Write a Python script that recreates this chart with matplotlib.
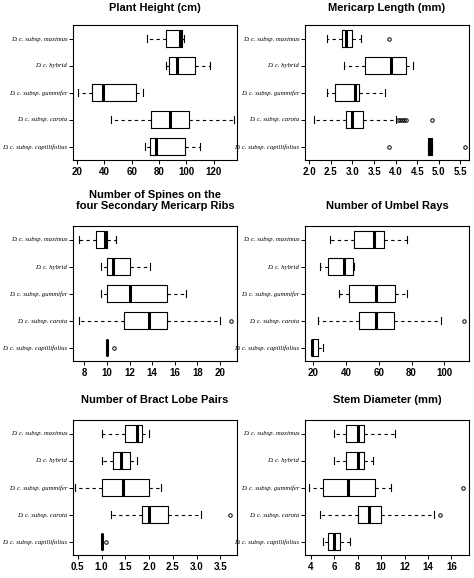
import matplotlib
matplotlib.use("Agg")
import matplotlib.pyplot as plt

taxa = ["D. c. subsp. maximus", "D. c. hybrid", "D. c. subsp. gummifer",
        "D. c. subsp. carota", "D. c. subsp. capillifolius"]

# each row: whisker low, q1, median, q3, whisker high
plant_height = [[71, 85, 95, 97, 98], [85, 87, 93, 106, 117], [21, 31, 39, 63, 68],
                [45, 74, 88, 102, 135], [70, 73, 78, 99, 110]]
plant_height_out = [[], [], [], [], []]

mericarp = [[2.4, 2.75, 2.85, 3.0, 3.2], [2.8, 3.3, 3.9, 4.25, 4.4], [2.4, 2.6, 3.05, 3.15, 3.75],
            [2.1, 2.85, 3.0, 3.25, 4.0], [4.75, 4.75, 4.8, 4.85, 4.85]]
mericarp_out = [[3.85], [], [], [4.05, 4.1, 4.15, 4.2, 4.25, 4.85], [3.85, 5.6]]

spines = [[7.5, 9, 9.8, 10, 10.8], [9.5, 10, 10.5, 12, 13.8], [9.5, 10, 12, 15.3, 17],
          [7.5, 11.5, 13.7, 15.3, 20], [10, 10, 10, 10, 10]]
spines_out = [[], [], [], [21], [10.6]]

umbel = [[30, 45, 57, 63, 77], [24, 29, 39, 44, 45], [36, 42, 58, 70, 77],
         [23, 48, 58, 69, 98], [19, 19, 19.5, 23, 26]]
umbel_out = [[], [], [], [112], []]

bract = [[1.0, 1.5, 1.75, 1.85, 2.0], [1.0, 1.25, 1.4, 1.6, 1.75], [0.45, 1.0, 1.45, 2.0, 2.25],
         [1.2, 1.85, 2.0, 2.4, 3.1], [1.0, 1.0, 1.0, 1.0, 1.0]]
bract_out = [[], [], [], [3.7], [1.1]]

stem = [[6, 7, 8, 8.5, 11.2], [6, 7, 8, 8.5, 9.3], [3.8, 5, 7.2, 9.5, 10.8],
        [4.8, 8, 9, 10, 14.5], [5, 5.5, 6, 6.5, 7.3]]
stem_out = [[], [], [17], [15], []]

panels = [
    ("Plant Height (cm)", plant_height, plant_height_out, (17, 137), [20, 40, 60, 80, 100, 120]),
    ("Mericarp Length (mm)", mericarp, mericarp_out, (1.9, 5.7), [2.0, 2.5, 3.0, 3.5, 4.0, 4.5, 5.0, 5.5]),
    ("Number of Spines on the\nfour Secondary Mericarp Ribs", spines, spines_out, (7, 21.5), [8, 10, 12, 14, 16, 18, 20]),
    ("Number of Umbel Rays", umbel, umbel_out, (15, 115), [20, 40, 60, 80, 100]),
    ("Number of Bract Lobe Pairs", bract, bract_out, (0.4, 3.85), [0.5, 1.0, 1.5, 2.0, 2.5, 3.0, 3.5]),
    ("Stem Diameter (mm)", stem, stem_out, (3.5, 17.5), [4, 6, 8, 10, 12, 14, 16]),
]

W, H = 474, 578
fig = plt.figure(figsize=(W / 100, H / 100), dpi=100)
lefts = [73, 305]
tops = [25, 226, 420]
aw, ah = 164, 135

for i, (title, stats, outs, xlim, ticks) in enumerate(panels):
    r, c = divmod(i, 2)
    ax = fig.add_axes([lefts[c] / W, 1 - (tops[r] + ah) / H, aw / W, ah / H])
    bxp = []
    for s, o in zip(stats, outs):
        bxp.append(dict(whislo=s[0], q1=s[1], med=s[2], q3=s[3], whishi=s[4], fliers=o))
    pos = list(range(5, 0, -1))
    ax.bxp(bxp, positions=pos, vert=False, widths=0.6,
           boxprops=dict(linewidth=0.8, color="black"),
           medianprops=dict(linewidth=2.2, color="black"),
           whiskerprops=dict(linewidth=0.8, linestyle=(0, (3, 3)), color="black"),
           capprops=dict(linewidth=0.8, color="black"),
           flierprops=dict(marker="o", markersize=2.5, markerfacecolor="none",
                           markeredgecolor="black", markeredgewidth=0.7),
           capwidths=0.25)
    ax.set_xlim(*xlim)
    ax.set_ylim(0.5, 5.5)
    ax.set_xticks(ticks)
    ax.set_xticklabels([f"{t:g}" if not isinstance(t, float) else f"{t:.1f}" for t in ticks],
                       fontsize=7, fontweight="bold", family="Liberation Sans")
    ax.set_yticks(pos)
    ax.set_yticklabels(taxa, fontsize=4.8, style="italic", family="Liberation Serif")
    ax.tick_params(axis="y", length=3, width=0.7, pad=1)
    ax.tick_params(axis="x", length=3, width=0.7, pad=2)
    for sp in ax.spines.values():
        sp.set_linewidth(0.8)
    ax.set_title(title, fontsize=8, fontweight="bold", family="Liberation Sans", pad=12 if r else 10)

fig.savefig("out.png", dpi=100)
